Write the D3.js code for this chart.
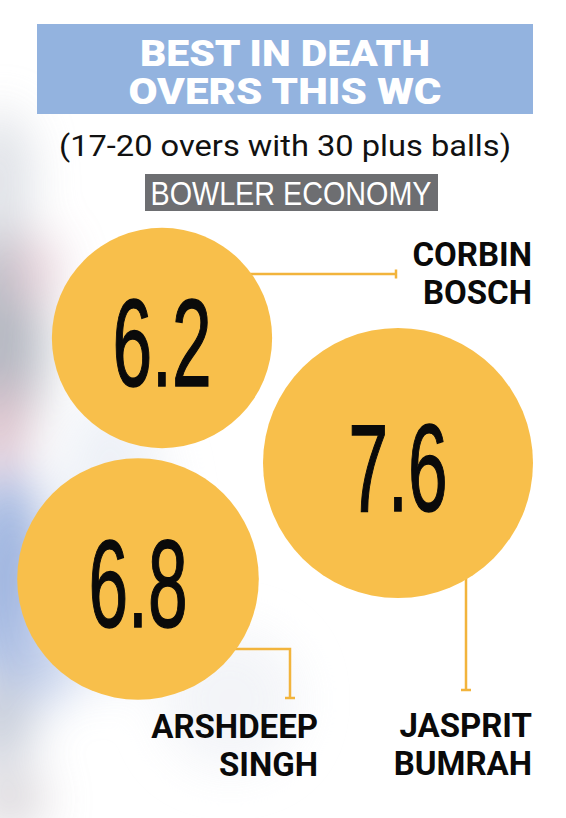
<!DOCTYPE html>
<html>
<head>
<meta charset="utf-8">
<script src="https://cdn.jsdelivr.net/npm/d3@7"></script>
<style>
  html, body { margin: 0; padding: 0; background: #fff; }
  svg { display: block; }
</style>
</head>
<body>
<svg width="566" height="818"></svg>
<script>
// data
var titleLines = ["BEST IN DEATH", "OVERS THIS WC"];
var subtitle = "(17-20 overs with 30 plus balls)";
var metric = "BOWLER ECONOMY";
var bowlers = ["CORBIN BOSCH", "JASPRIT BUMRAH", "ARSHDEEP SINGH"];
var economy = [6.2, 7.6, 6.8];

// layout (bubble centres, callout shape, label anchors)
var layout = [
    { cx: 162, cy: 338, call: "h",     dy: -64, to: 396, lx: 532, ly: 266 },
    { cx: 398, cy: 463, call: "v",     dx: 68,  to: 690, lx: 532, ly: 737 },
    { cx: 138, cy: 579, call: "elbow", dy: 70,  tx: 290, to: 698, lx: 318, ly: 738 }
];

var svg = d3.select("svg"),
    width = +svg.attr("width"),
    height = +svg.attr("height");

var gold = "#f8bf4b", lineGold = "#f2b43c";

var r = d3.scaleLinear().domain([0, d3.max(economy)]).range([0, 135]);

// blurred photo background on the left edge
var defs = svg.append("defs");
defs.append("filter").attr("id", "blur")
    .attr("filterUnits", "userSpaceOnUse")
    .attr("x", -200).attr("y", -200).attr("width", 1000).attr("height", 1300)
    .append("feGaussianBlur").attr("stdDeviation", 24);

var bg = svg.append("g").attr("filter", "url(#blur)").attr("opacity", 0.85);
var blobs = [
    [0, 180, 30, 70, "#d6d9e0"],
    [0, 340, 45, 110, "#a6aab6"],
    [35, 270, 25, 35, "#e2c8d2"],
    [0, 430, 25, 50, "#d6b2c0"],
    [5, 580, 45, 110, "#8ea8da"],
    [50, 650, 35, 50, "#b6c6e8"],
    [0, 720, 35, 45, "#bcc3d2"],
    [10, 800, 35, 30, "#d2ced3"],
    [110, 540, 60, 150, "#ebeff6"],
    [230, 700, 70, 70, "#f1f3f7"]
];
bg.selectAll("ellipse").data(blobs).enter().append("ellipse")
    .attr("cx", function (d) { return d[0]; })
    .attr("cy", function (d) { return d[1]; })
    .attr("rx", function (d) { return d[2]; })
    .attr("ry", function (d) { return d[3]; })
    .attr("fill", function (d) { return d[4]; });

// title
svg.append("rect")
    .attr("x", 37).attr("y", 24).attr("width", 496).attr("height", 90)
    .attr("fill", "#93b3df");

var title = svg.append("text")
    .attr("y", 66)
    .attr("text-anchor", "middle")
    .attr("fill", "#fff")
    .style("font-family", "Roboto, 'Liberation Sans', sans-serif")
    .style("font-weight", 900)
    .style("font-size", "37px");

title.selectAll("tspan").data(titleLines).enter().append("tspan")
    .attr("x", 285)
    .attr("dy", function (d, i) { return i ? 38 : 0; })
    .attr("textLength", function (d, i) { return i ? 313 : 290; })
    .attr("lengthAdjust", "spacingAndGlyphs")
    .text(function (d) { return d; });

svg.append("text")
    .attr("x", 285).attr("y", 156)
    .attr("text-anchor", "middle")
    .attr("fill", "#111")
    .style("font-family", "Roboto, 'Liberation Sans', sans-serif")
    .style("font-size", "29px")
    .attr("textLength", 452)
    .attr("lengthAdjust", "spacingAndGlyphs")
    .text(subtitle);

svg.append("rect")
    .attr("x", 145).attr("y", 174).attr("width", 293).attr("height", 37)
    .attr("fill", "#6d6e71");

svg.append("text")
    .attr("x", 291).attr("y", 205)
    .attr("text-anchor", "middle")
    .attr("fill", "#fff")
    .style("font-family", "'Liberation Sans Narrow', 'Liberation Sans', sans-serif")
    .style("font-size", "34px")
    .attr("textLength", 281)
    .attr("lengthAdjust", "spacingAndGlyphs")
    .text(metric);

// callout lines (drawn under the bubbles)
var items = economy.map(function (v, i) {
    return { value: v, name: bowlers[i], pos: layout[i] };
});

var lines = svg.append("g")
    .attr("fill", "none")
    .attr("stroke", lineGold)
    .attr("stroke-width", 2.5);

items.forEach(function (d) {
    var p = d.pos, rad = r(d.value), path = d3.path();
    if (p.call === "h") {
        var y = p.cy + p.dy, x0 = p.cx + Math.sqrt(rad * rad - p.dy * p.dy) - 3;
        path.moveTo(x0, y); path.lineTo(p.to, y);
        path.moveTo(p.to, y - 4.5); path.lineTo(p.to, y + 4.5);
    } else if (p.call === "v") {
        var x = p.cx + p.dx, y0 = p.cy + Math.sqrt(rad * rad - p.dx * p.dx) - 3;
        path.moveTo(x, y0); path.lineTo(x, p.to);
        path.moveTo(x - 5, p.to); path.lineTo(x + 5, p.to);
    } else {
        var ye = p.cy + p.dy, xe = p.cx + Math.sqrt(rad * rad - p.dy * p.dy) - 3;
        path.moveTo(xe, ye); path.lineTo(p.tx, ye); path.lineTo(p.tx, p.to);
        path.moveTo(p.tx - 5, p.to); path.lineTo(p.tx + 5, p.to);
    }
    lines.append("path").attr("d", path.toString());
});

// bubbles
var bubble = svg.append("g").selectAll("g").data(items).enter().append("g")
    .attr("transform", function (d) { return "translate(" + d.pos.cx + "," + d.pos.cy + ")"; });

bubble.append("circle")
    .attr("r", function (d) { return r(d.value); })
    .attr("fill", gold);

bubble.append("text")
    .attr("transform", "translate(0,48) scale(0.57,1)")
    .attr("text-anchor", "middle")
    .attr("fill", "#0a0a0a")
    .attr("stroke", "#0a0a0a")
    .attr("stroke-width", 1.5)
    .style("font-family", "'Liberation Sans Narrow', 'Liberation Sans', sans-serif")
    .style("font-size", "125px")
    .text(function (d) { return d3.format(".1f")(d.value); });

// names
var labels = svg.append("g").selectAll("text").data(items).enter().append("text")
    .attr("x", function (d) { return d.pos.lx; })
    .attr("y", function (d) { return d.pos.ly; })
    .attr("text-anchor", "end")
    .attr("fill", "#0a0a0a")
    .style("font-family", "Roboto, 'Liberation Sans', sans-serif")
    .style("font-weight", 700)
    .style("font-size", "33px");

labels.selectAll("tspan")
    .data(function (d) { return d.name.split(" "); })
    .enter().append("tspan")
    .attr("x", function () { return d3.select(this.parentNode).datum().pos.lx; })
    .attr("dy", function (d, i) { return i ? 38 : 0; })
    .text(function (d) { return d; });
</script>
</body>
</html>
